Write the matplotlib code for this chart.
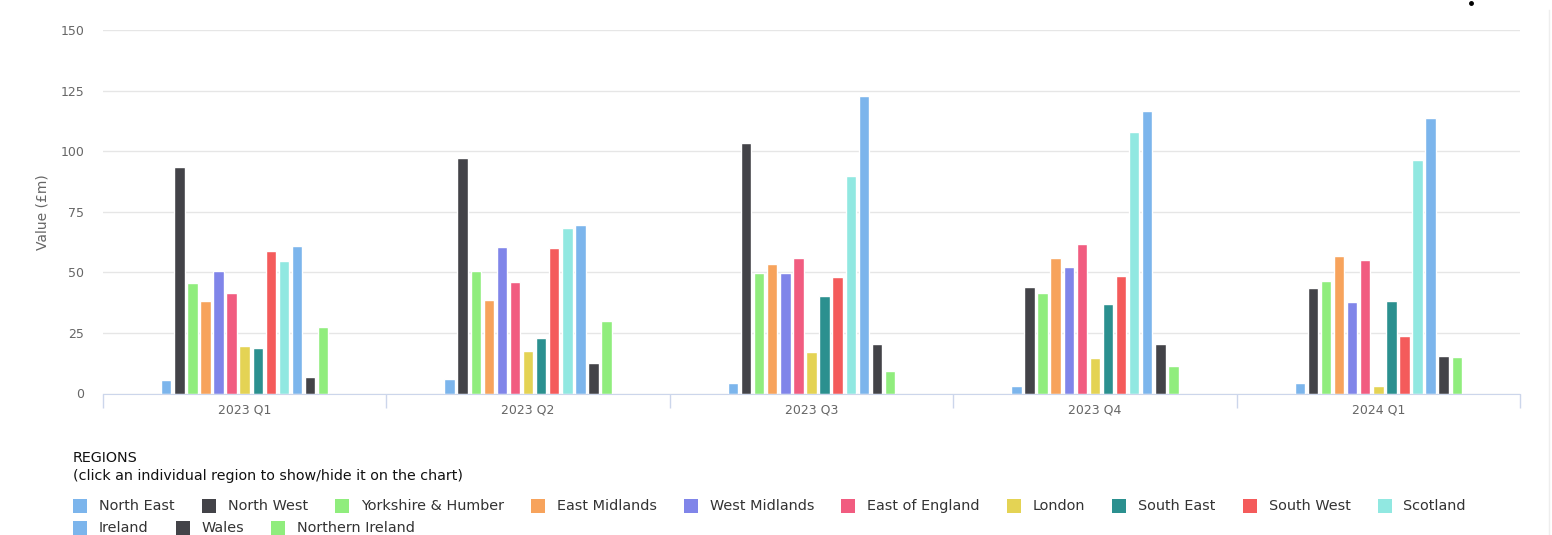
import matplotlib
matplotlib.use("Agg")
from matplotlib import pyplot as plt
from matplotlib.patches import Rectangle
import numpy as np

# Quarterly value (GBP m) per region
quarters = ["2023 Q1", "2023 Q2", "2023 Q3", "2023 Q4", "2024 Q1"]

northEast = [5.6, 5.9, 4.2, 3.2, 4.2]
northWest = [93.6, 97.1, 103.2, 43.8, 43.4]
yorkshire = [45.6, 50.6, 49.6, 41.5, 46.4]
eastMidlands = [38.2, 38.7, 53.3, 55.8, 56.9]
westMidlands = [50.6, 60.5, 49.6, 52.2, 37.8]
eastOfEngland = [41.5, 46.0, 55.8, 61.6, 55.2]
london = [19.6, 17.7, 17.1, 14.7, 3.2]
southEast = [18.8, 22.8, 40.4, 36.8, 38.2]
southWest = [58.9, 60.0, 48.1, 48.6, 23.9]
scotland = [54.8, 68.3, 89.9, 107.9, 96.5]
ireland = [61.0, 69.7, 122.8, 116.6, 113.6]
wales = [6.8, 12.5, 20.3, 20.3, 15.5]
northernIreland = [27.5, 29.9, 9.4, 11.5, 15.1]

regionNames = ["North East", "North West", "Yorkshire & Humber", "East Midlands",
               "West Midlands", "East of England", "London", "South East",
               "South West", "Scotland", "Ireland", "Wales", "Northern Ireland"]
regionValues = [northEast, northWest, yorkshire, eastMidlands, westMidlands,
                eastOfEngland, london, southEast, southWest, scotland, ireland,
                wales, northernIreland]
colours = ["#7cb5ec", "#434348", "#90ed7d", "#f7a35c", "#8085e9", "#f15c80",
           "#e4d354", "#2b908f", "#f45b5b", "#91e8e1", "#7cb5ec", "#434348",
           "#90ed7d"]

W, H = 1552, 535
fig = plt.figure(figsize=(W / 100, H / 100), dpi=100)
ax = fig.add_axes([103 / W, 1 - 393.5 / H, (1520 - 103) / W, (393.5 - 30) / H])

n = len(regionNames)
x = np.arange(len(quarters))
groupWidth = 0.6
slot = groupWidth / n
for i in range(n):
    offset = -groupWidth / 2 + (i + 0.5) * slot
    ax.bar(x + offset, regionValues[i], width=slot * 0.8, color=colours[i],
           edgecolor="white", linewidth=1, zorder=3)

ax.set_xlim(-0.5, len(quarters) - 0.5)
ax.set_ylim(0, 150)
ax.set_yticks(np.arange(0, 151, 25))
ax.set_xticks(x)
ax.set_xticklabels(quarters)
ax.set_xticks(np.arange(-0.5, len(quarters), 1), minor=True)
ax.tick_params(axis="y", length=0, pad=13.5, labelsize=9, labelcolor="#666666")
ax.tick_params(axis="x", which="major", length=0, pad=7, labelsize=9,
               labelcolor="#666666")
ax.tick_params(axis="x", which="minor", length=10, width=1, color="#ccd6eb")
ax.grid(axis="y", color="#e6e6e6", linewidth=1, zorder=0)
for side in ["top", "right", "left"]:
    ax.spines[side].set_visible(False)
ax.spines["bottom"].set_color("#ccd6eb")
ax.spines["bottom"].set_zorder(4)
ax.set_ylabel("Value (£m)", fontsize=10, color="#666666")
ax.yaxis.set_label_coords((50 - 103) / (1520 - 103), 0.5)

# legend header
fig.text(73 / W, 1 - 458 / H, "REGIONS", fontsize=10.3, color="#111111",
         va="center", ha="left")
fig.text(73 / W, 1 - 476 / H, "(click an individual region to show/hide it on the chart)",
         fontsize=10.3, color="#111111", va="center", ha="left")

# flow legend, like the web chart
renderer = fig.canvas.get_renderer()
px = 73
py = 506
for i in range(n):
    t = fig.text((px + 26) / W, 1 - py / H, regionNames[i], fontsize=10.4,
                 color="#333333", va="center", ha="left")
    tw = t.get_window_extent(renderer).width
    if px + 26 + tw > 1510:
        px = 73
        py += 22
        t.set_position(((px + 26) / W, 1 - py / H))
    fig.patches.append(Rectangle((px / W, 1 - (py + 7) / H), 14 / W, 14 / H,
                                 transform=fig.transFigure, facecolor=colours[i],
                                 edgecolor="none"))
    px = px + 26 + tw + 27

# small page artefacts at the top right
fig.lines.append(plt.Line2D([1549 / W, 1549 / W], [0, 1 - 10 / H],
                            transform=fig.transFigure, color="#eeeeee", linewidth=1))
fig.lines.append(plt.Line2D([1471 / W], [1 - 2.5 / H], transform=fig.transFigure,
                            marker="o", markersize=2.5, color="black", linestyle="none"))

fig.savefig("out.png", dpi=100)
